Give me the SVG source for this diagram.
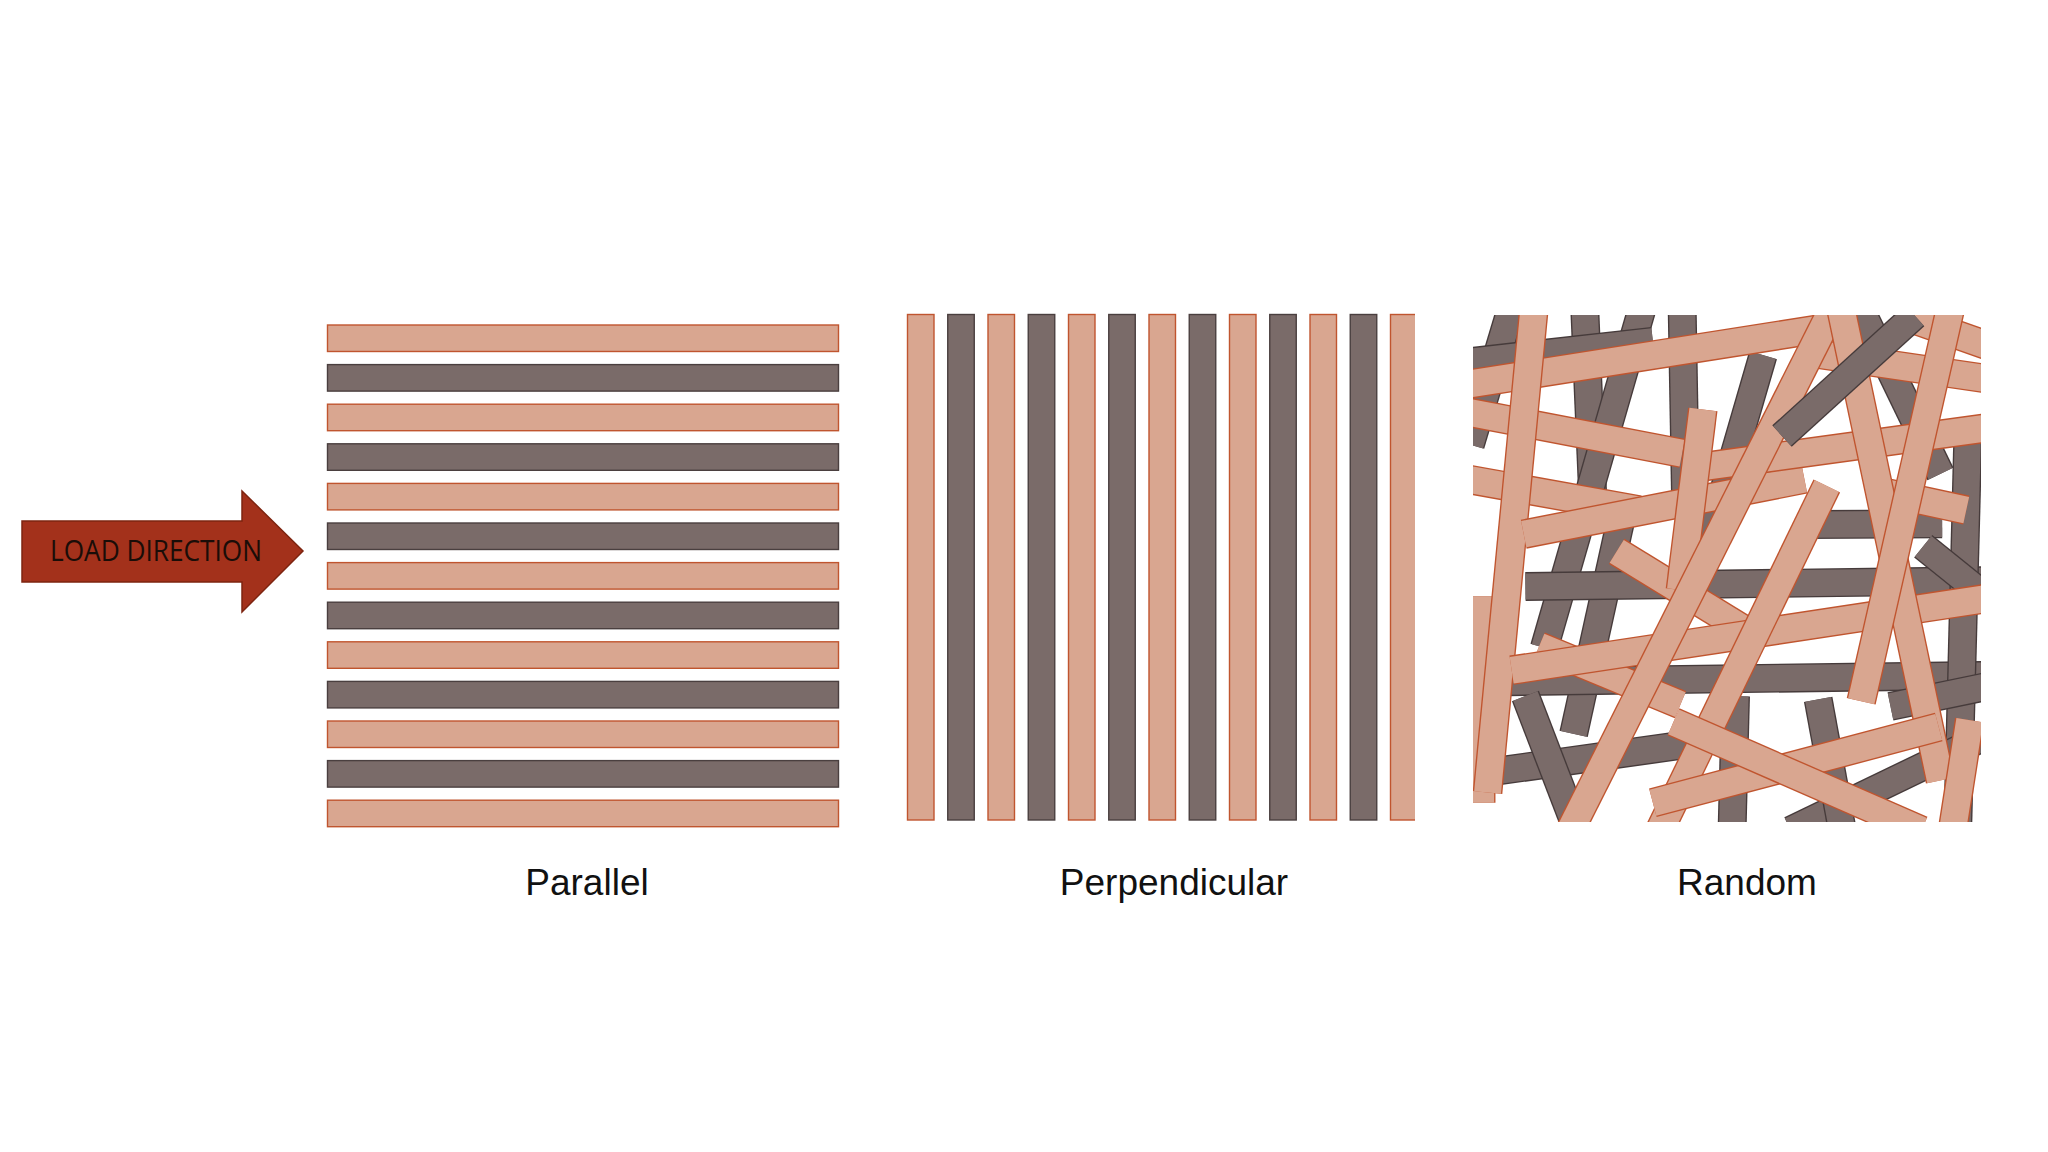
<svg xmlns="http://www.w3.org/2000/svg" width="2048" height="1152" viewBox="0 0 2048 1152">
<defs>
<style>
.tan{fill:#D9A690;stroke:#C0552F;stroke-width:1.4}
.gry{fill:#7A6B69;stroke:#4A3F3F;stroke-width:1.4}
.to{stroke:#C0552F;stroke-width:86;fill:none}
.tf{stroke:#D9A690;stroke-width:78;fill:none}
.go{stroke:#463B3B;stroke-width:84;fill:none}
.gf{stroke:#7A6B69;stroke-width:76;fill:none}
.lbl{font-family:"Liberation Sans",Arial,sans-serif;font-size:37px;fill:#111;text-anchor:middle}
</style>
<clipPath id="rc"><rect x="1473" y="315" width="508" height="507"/></clipPath>
<clipPath id="pc"><rect x="900" y="310" width="515" height="515"/></clipPath>
</defs>
<rect width="2048" height="1152" fill="#FFFFFF"/>

<g id="load-direction">
<polygon points="22,521 242,521 242,491 303,551 242,612 242,582 22,582" fill="#A3311B" stroke="#7D2410" stroke-width="1.5"/>
<text x="50" y="561" font-family="Open Sans, Noto Sans, sans-serif" font-size="29" fill="#1A0D08" textLength="212" lengthAdjust="spacingAndGlyphs">LOAD DIRECTION</text>
</g>

<g id="parallel">
<rect class="tan" x="327.5" y="325" width="511" height="26.5"/>
<rect class="gry" x="327.5" y="364.6" width="511" height="26.5"/>
<rect class="tan" x="327.5" y="404.2" width="511" height="26.5"/>
<rect class="gry" x="327.5" y="443.8" width="511" height="26.5"/>
<rect class="tan" x="327.5" y="483.4" width="511" height="26.5"/>
<rect class="gry" x="327.5" y="523" width="511" height="26.5"/>
<rect class="tan" x="327.5" y="562.6" width="511" height="26.5"/>
<rect class="gry" x="327.5" y="602.2" width="511" height="26.5"/>
<rect class="tan" x="327.5" y="641.8" width="511" height="26.5"/>
<rect class="gry" x="327.5" y="681.4" width="511" height="26.5"/>
<rect class="tan" x="327.5" y="721" width="511" height="26.5"/>
<rect class="gry" x="327.5" y="760.6" width="511" height="26.5"/>
<rect class="tan" x="327.5" y="800.2" width="511" height="26.5"/>
<text class="lbl" x="587" y="895">Parallel</text>
</g>

<g id="perpendicular">
<g clip-path="url(#pc)">
<rect class="tan" x="907.5" y="314.5" width="26.5" height="505.5"/>
<rect class="gry" x="947.75" y="314.5" width="26.5" height="505.5"/>
<rect class="tan" x="988" y="314.5" width="26.5" height="505.5"/>
<rect class="gry" x="1028.25" y="314.5" width="26.5" height="505.5"/>
<rect class="tan" x="1068.5" y="314.5" width="26.5" height="505.5"/>
<rect class="gry" x="1108.75" y="314.5" width="26.5" height="505.5"/>
<rect class="tan" x="1149" y="314.5" width="26.5" height="505.5"/>
<rect class="gry" x="1189.25" y="314.5" width="26.5" height="505.5"/>
<rect class="tan" x="1229.5" y="314.5" width="26.5" height="505.5"/>
<rect class="gry" x="1269.75" y="314.5" width="26.5" height="505.5"/>
<rect class="tan" x="1310" y="314.5" width="26.5" height="505.5"/>
<rect class="gry" x="1350.25" y="314.5" width="26.5" height="505.5"/>
<rect class="tan" x="1390.5" y="314.5" width="26.5" height="505.5"/>
</g>
<text class="lbl" x="1174" y="895">Perpendicular</text>
</g>

<g id="random">
<g clip-path="url(#rc)">
<rect x="1473" y="315" width="508" height="507" fill="#FFFFFF"/>
<g transform="translate(1460,300) scale(0.34439)">
<!-- gray sticks underneath -->
<line class="go" x1="150" y1="20" x2="30" y2="420"/><line class="gf" x1="150" y1="20" x2="30" y2="420"/>
<line class="go" x1="362" y1="20" x2="385" y2="560"/><line class="gf" x1="362" y1="20" x2="385" y2="560"/>
<line class="go" x1="645" y1="20" x2="655" y2="580"/><line class="gf" x1="645" y1="20" x2="655" y2="580"/>
<line class="go" x1="530" y1="20" x2="245" y2="1010"/><line class="gf" x1="530" y1="20" x2="245" y2="1010"/>
<line class="go" x1="480" y1="580" x2="330" y2="1260"/><line class="gf" x1="480" y1="580" x2="330" y2="1260"/>
<line class="go" x1="880" y1="160" x2="700" y2="780"/><line class="gf" x1="880" y1="160" x2="700" y2="780"/>
<line class="go" x1="20" y1="1110" x2="1540" y2="1090"/><line class="gf" x1="20" y1="1110" x2="1540" y2="1090"/>
<line class="go" x1="190" y1="832" x2="1540" y2="815"/><line class="gf" x1="190" y1="832" x2="1540" y2="815"/>
<line class="go" x1="1000" y1="652" x2="1400" y2="650"/><line class="gf" x1="1000" y1="652" x2="1400" y2="650"/>
<line class="go" x1="1160" y1="20" x2="1395" y2="505"/><line class="gf" x1="1160" y1="20" x2="1395" y2="505"/>
<line class="go" x1="1475" y1="380" x2="1445" y2="1540"/><line class="gf" x1="1475" y1="380" x2="1445" y2="1540"/>
<line class="go" x1="20" y1="1380" x2="700" y2="1285"/><line class="gf" x1="20" y1="1380" x2="700" y2="1285"/>
<line class="go" x1="190" y1="1150" x2="340" y2="1540"/><line class="gf" x1="190" y1="1150" x2="340" y2="1540"/>
<line class="go" x1="800" y1="1150" x2="790" y2="1540"/><line class="gf" x1="800" y1="1150" x2="790" y2="1540"/>
<line class="go" x1="960" y1="1540" x2="1540" y2="1260"/><line class="gf" x1="960" y1="1540" x2="1540" y2="1260"/>
<line class="go" x1="1345" y1="715" x2="1500" y2="840"/><line class="gf" x1="1345" y1="715" x2="1500" y2="840"/>
<line class="go" x1="1040" y1="1160" x2="1110" y2="1540"/><line class="gf" x1="1040" y1="1160" x2="1110" y2="1540"/>
<line class="go" x1="20" y1="180" x2="560" y2="120"/><line class="gf" x1="20" y1="180" x2="560" y2="120"/>
<line class="go" x1="1250" y1="1180" x2="1540" y2="1120"/><line class="gf" x1="1250" y1="1180" x2="1540" y2="1120"/>
<!-- tan sticks -->
<line class="to" x1="60" y1="860" x2="60" y2="1460"/><line class="tf" x1="60" y1="860" x2="60" y2="1460"/>
<line class="to" x1="20" y1="245" x2="1070" y2="80"/><line class="tf" x1="20" y1="245" x2="1070" y2="80"/>
<line class="to" x1="990" y1="150" x2="1540" y2="230"/><line class="tf" x1="990" y1="150" x2="1540" y2="230"/>
<line class="to" x1="1270" y1="40" x2="1540" y2="135"/><line class="tf" x1="1270" y1="40" x2="1540" y2="135"/>
<line class="to" x1="20" y1="325" x2="645" y2="445"/><line class="tf" x1="20" y1="325" x2="645" y2="445"/>
<line class="to" x1="20" y1="520" x2="520" y2="610"/><line class="tf" x1="20" y1="520" x2="520" y2="610"/>
<line class="to" x1="215" y1="20" x2="80" y2="1430"/><line class="tf" x1="215" y1="20" x2="80" y2="1430"/>
<line class="to" x1="185" y1="680" x2="1000" y2="520"/><line class="tf" x1="185" y1="680" x2="1000" y2="520"/>
<line class="to" x1="700" y1="485" x2="1540" y2="370"/><line class="tf" x1="700" y1="485" x2="1540" y2="370"/>
<line class="to" x1="1240" y1="560" x2="1470" y2="610"/><line class="tf" x1="1240" y1="560" x2="1470" y2="610"/>
<line class="to" x1="455" y1="730" x2="830" y2="960"/><line class="tf" x1="455" y1="730" x2="830" y2="960"/>
<line class="to" x1="230" y1="1005" x2="640" y2="1175"/><line class="tf" x1="230" y1="1005" x2="640" y2="1175"/>
<line class="to" x1="150" y1="1075" x2="1540" y2="865"/><line class="tf" x1="150" y1="1075" x2="1540" y2="865"/>
<line class="to" x1="705" y1="318" x2="640" y2="842"/><line class="tf" x1="705" y1="318" x2="640" y2="842"/>
<line class="to" x1="580" y1="1540" x2="1065" y2="540"/><line class="tf" x1="580" y1="1540" x2="1065" y2="540"/>
<line class="to" x1="320" y1="1540" x2="1085" y2="20"/><line class="tf" x1="320" y1="1540" x2="1085" y2="20"/>
<line class="to" x1="1105" y1="20" x2="1395" y2="1395"/><line class="tf" x1="1105" y1="20" x2="1395" y2="1395"/>
<line class="to" x1="1425" y1="20" x2="1165" y2="1165"/><line class="tf" x1="1425" y1="20" x2="1165" y2="1165"/>
<line class="to" x1="560" y1="1460" x2="1390" y2="1240"/><line class="tf" x1="560" y1="1460" x2="1390" y2="1240"/>
<line class="to" x1="620" y1="1225" x2="1340" y2="1540"/><line class="tf" x1="620" y1="1225" x2="1340" y2="1540"/>
<line class="to" x1="1480" y1="1220" x2="1430" y2="1540"/><line class="tf" x1="1480" y1="1220" x2="1430" y2="1540"/>
<!-- gray on top -->
<line class="go" x1="935" y1="395" x2="1320" y2="45"/><line class="gf" x1="935" y1="395" x2="1320" y2="45"/>
</g>
</g>
<text class="lbl" x="1747" y="895">Random</text>
</g>
</svg>
